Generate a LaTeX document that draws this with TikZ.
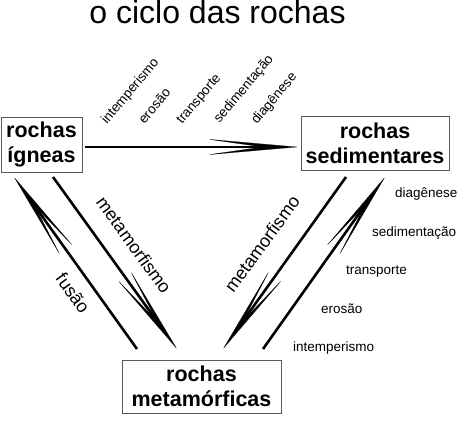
\documentclass[tikz,border=0pt]{standalone}
\usepackage{fontspec}
\setmainfont{Liberation Sans}
\usetikzlibrary{arrows.meta}
\tikzset{
  caixa/.style={draw=black!65, line width=0.8pt, align=center, inner sep=0pt,
    font=\fontsize{21.5}{25}\selectfont\bfseries},
  seta/.style={line width=2.6pt,
    -{Stealth[length=92pt,width=16pt,inset=56pt,line width=0.2pt]}},
  processo/.style={font=\fontsize{13.5}{16}\selectfont, inner sep=0pt},
  grande/.style={font=\fontsize{18}{20}\selectfont, inner sep=0pt},
}
\begin{document}
\begin{tikzpicture}[x=1pt,y=-1pt]
                \useasboundingbox (0,0) rectangle (474,425);
                \node[font=\fontsize{32}{36}\selectfont, anchor=base, inner sep=0pt] (titulo) at (217.5,24) {o ciclo das rochas};
                \node[caixa, minimum width=81pt, minimum height=55pt] (ign) at (41.5,144.5) {rochas\\ígneas};
                \node[caixa, minimum width=148pt, minimum height=54pt] (sed) at (375,143) {rochas\\sedimentares};
                \node[caixa, minimum width=159pt, minimum height=53pt] (met) at (201.5,386.5) {rochas\\metamórficas};
                \coordinate (IS1) at (85,147);
                \coordinate (IS2) at (298,147);
                \coordinate (MI1) at (137,349);
                \coordinate (MI2) at (14,177);
                \coordinate (IM1) at (53,177);
                \coordinate (IM2) at (177,349);
                \coordinate (SM1) at (346,177);
                \coordinate (SM2) at (223,349);
                \coordinate (MS1) at (263,349);
                \coordinate (MS2) at (385,177);
                \draw[seta] (IS1) -- (IS2);
                \draw[seta] (MI1) -- (MI2);
                \draw[seta] (IM1) -- (IM2);
                \draw[seta] (SM1) -- (SM2);
                \draw[seta] (MS1) -- (MS2);
                % processos entre ignea e sedimentar
                \node[processo, rotate=50, anchor=base west] (t1) at (107,125) {intemperismo};
                \node[processo, rotate=50, anchor=base west] (t2) at (144.5,125) {erosão};
                \node[processo, rotate=50, anchor=base west] (t3) at (182,125) {transporte};
                \node[processo, rotate=50, anchor=base west] (t4) at (219.5,124) {sedimentação};
                \node[processo, rotate=50, anchor=base west] (t5) at (257,125) {diagênese};
                % processos entre metamorfica e sedimentar
                \node[processo, anchor=base west] (d1) at (293,351) {intemperismo};
                \node[processo, anchor=base west] (d2) at (321,313) {erosão};
                \node[processo, anchor=base west] (d3) at (346,274) {transporte};
                \node[processo, anchor=base west] (d4) at (372,236) {sedimentação};
                \node[processo, anchor=base west] (d5) at (395,197) {diagênese};
                \node[grande, rotate=-54] (fus) at (73,293) {fusão};
                \node[grande, rotate=-54] (metE) at (134,245) {metamorfismo};
                \node[grande, rotate=54] (metD) at (262,244) {metamorfismo};
\end{tikzpicture}
\end{document}
